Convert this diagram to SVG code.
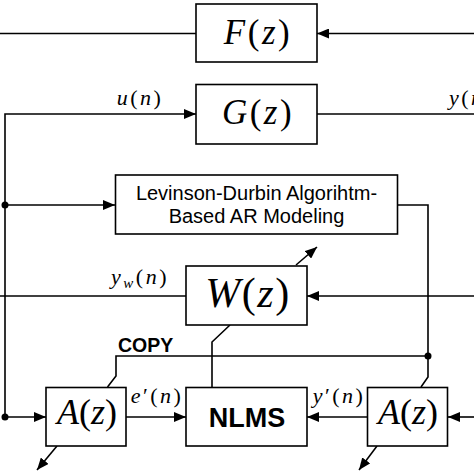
<svg xmlns="http://www.w3.org/2000/svg" width="474" height="474" viewBox="0 0 474 474">
<defs>
<marker id="ah" viewBox="0 0 12 10" refX="12" refY="5" markerWidth="12" markerHeight="10" markerUnits="userSpaceOnUse" orient="auto">
<path d="M0,0 L12,5 L0,10 Z" fill="#000"/>
</marker>
</defs>
<style>
.box{fill:#fff;stroke:#000;stroke-width:1.6}
.ln{fill:none;stroke:#000;stroke-width:1.6}
.m{font-family:"Liberation Serif",serif;font-style:italic}
.r{font-style:normal}
.s{font-family:"Liberation Sans",Arial,sans-serif}
.fg{font-size:35px;letter-spacing:2.5px}
.lbl{font-size:22px;letter-spacing:2.5px}
</style>
<rect width="474" height="474" fill="#fff"/>
<g id="connectors">
<line class="ln" x1="0" y1="33.5" x2="196" y2="33.5"/>
<line class="ln" x1="474" y1="33.5" x2="317" y2="33.5" marker-end="url(#ah)"/>
<polyline class="ln" points="5,417 5,114 196,114" marker-end="url(#ah)"/>
<line class="ln" x1="317" y1="114" x2="474" y2="114"/>
<line class="ln" x1="5" y1="205" x2="115" y2="205" marker-end="url(#ah)"/>
<polyline class="ln" points="398,205 428,205 428,377 421,387"/>
<line class="ln" x1="0" y1="296" x2="186" y2="296"/>
<line class="ln" x1="474" y1="296" x2="307" y2="296" marker-end="url(#ah)"/>
<line class="ln" x1="296" y1="265" x2="317" y2="247" marker-end="url(#ah)"/>
<polyline class="ln" points="428,356 116,356 116,376 107.5,387"/>
<polyline class="ln" points="230,325 212,342 212,387"/>
<line class="ln" x1="5" y1="417" x2="46" y2="417" marker-end="url(#ah)"/>
<line class="ln" x1="126" y1="417" x2="186" y2="417" marker-end="url(#ah)"/>
<line class="ln" x1="367" y1="417" x2="307" y2="417" marker-end="url(#ah)"/>
<line class="ln" x1="474" y1="417" x2="448" y2="417" marker-end="url(#ah)"/>
<line class="ln" x1="57" y1="446" x2="37" y2="470" marker-end="url(#ah)"/>
<line class="ln" x1="377" y1="446" x2="359" y2="470" marker-end="url(#ah)"/>
<circle cx="5" cy="205" r="3.5" fill="#000"/>
<circle cx="5" cy="417" r="3.5" fill="#000"/>
<circle cx="428" cy="356" r="3.5" fill="#000"/>
</g>
<g id="F">
<rect class="box" x="196" y="4" width="121" height="58"/>
<text class="m fg" x="258" y="44" text-anchor="middle">F<tspan class="r">(</tspan>z<tspan class="r">)</tspan></text>
</g>
<g id="G">
<rect class="box" x="196" y="84.5" width="121" height="59.5"/>
<text class="m fg" x="258" y="124" text-anchor="middle">G<tspan class="r">(</tspan>z<tspan class="r">)</tspan></text>
</g>
<g id="LD">
<rect class="box" x="115.5" y="175" width="282" height="59"/>
<text class="s" font-size="20" x="256.5" y="200" text-anchor="middle">Levinson-Durbin Algorihtm-</text>
<text class="s" font-size="20" x="256.5" y="223" text-anchor="middle">Based AR Modeling</text>
</g>
<g id="W">
<rect class="box" x="186" y="266" width="121" height="59"/>
<text class="m" font-size="42" letter-spacing="1.5" x="248" y="307" text-anchor="middle">W<tspan class="r">(</tspan>z<tspan class="r">)</tspan></text>
</g>
<g id="A1">
<rect class="box" x="46" y="387.5" width="80" height="58.5"/>
<text class="m" font-size="36" x="87" y="424" text-anchor="middle">A<tspan class="r">(</tspan>z<tspan class="r">)</tspan></text>
</g>
<g id="NLMS">
<rect class="box" x="186" y="387.5" width="121" height="58.5"/>
<text class="s" font-size="27" font-weight="bold" x="247" y="427" text-anchor="middle">NLMS</text>
</g>
<g id="A2">
<rect class="box" x="367.5" y="387.5" width="80" height="58.5"/>
<text class="m" font-size="36" x="408" y="424" text-anchor="middle">A<tspan class="r">(</tspan>z<tspan class="r">)</tspan></text>
</g>
<g id="labels">
<text class="m lbl" x="140" y="105" text-anchor="middle">u<tspan class="r">(</tspan>n<tspan class="r">)</tspan></text>
<text class="m lbl" x="449" y="105">y<tspan class="r">(</tspan>n<tspan class="r">)</tspan></text>
<text class="m lbl" x="140" y="284" text-anchor="middle" letter-spacing="3.5">y<tspan font-size="15" dy="4">w</tspan><tspan class="r" dy="-4">(</tspan>n<tspan class="r">)</tspan></text>
<text class="m lbl" x="157" y="403" text-anchor="middle" letter-spacing="3">e<tspan class="r">′(</tspan>n<tspan class="r">)</tspan></text>
<text class="m lbl" x="339" y="403" text-anchor="middle" letter-spacing="3">y<tspan class="r">′(</tspan>n<tspan class="r">)</tspan></text>
<text class="s" font-size="19.5" font-weight="bold" x="118" y="352">COPY</text>
</g>
</svg>
